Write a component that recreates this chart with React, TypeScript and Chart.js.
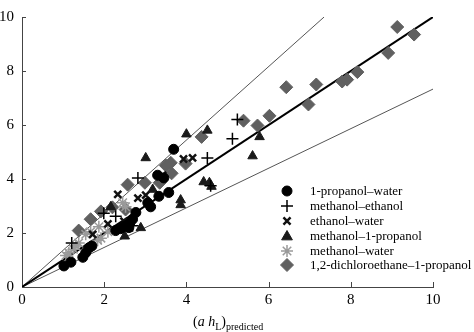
import React, { useEffect, useRef } from 'react';
import { Chart, registerables } from 'chart.js';

Chart.register(...registerables);

const FONT = "'Liberation Serif', 'Times New Roman', serif";

const xTicks = [0, 2, 4, 6, 8, 10];
const yTicks = [0, 2, 4, 6, 8, 10];

const seriesNames = [
  '1-propanol–water',
  'methanol–ethanol',
  'ethanol–water',
  'methanol–1-propanol',
  'methanol–water',
  '1,2-dichloroethane–1-propanol',
];

const propanolWater = [
  [1.02, 0.78], [1.19, 0.92], [1.48, 1.1], [1.55, 1.27], [1.63, 1.45], [1.7, 1.52],
  [2.28, 2.09], [2.4, 2.16], [2.52, 2.27], [2.62, 2.35], [2.69, 2.51], [2.77, 2.76],
  [3.06, 3.12], [3.13, 2.97], [3.33, 3.36], [3.57, 3.5], [3.3, 4.14], [3.45, 4.04],
  [3.69, 5.1], [2.6, 2.2],
];

const methanolEthanol = [
  [1.21, 1.63], [1.99, 2.73], [2.28, 2.62], [2.69, 2.27], [2.82, 4.04],
  [4.51, 4.78], [4.59, 3.75], [5.12, 5.49], [5.24, 6.2],
];

const ethanolWater = [
  [2.33, 3.43], [2.82, 3.29], [3.01, 3.4], [3.42, 4.14], [2.09, 2.34],
  [2.48, 2.44], [3.93, 4.74], [4.15, 4.78], [1.72, 1.95],
];

const methanolPropanol = [
  [2.5, 1.88], [2.89, 2.19], [2.16, 2.97], [3.18, 3.61], [3.01, 4.78],
  [3.86, 3.22], [3.86, 3.04], [4.0, 5.66], [4.51, 5.8], [4.42, 3.89],
  [4.56, 3.86], [4.61, 3.72], [5.61, 4.85], [5.78, 5.56],
];

const methanolWater = [
  [1.07, 1.17], [1.14, 1.27], [1.25, 1.4], [1.31, 1.52], [1.38, 1.63], [1.55, 1.95],
  [1.67, 2.05], [1.84, 1.73], [1.87, 2.23], [1.92, 1.81], [2.09, 2.05],
  [2.45, 3.12], [2.52, 2.97],
];

const dichloroethanePropanol = [
  [1.38, 2.09], [1.67, 2.51], [1.92, 2.8], [2.2, 2.95], [2.52, 2.87], [2.57, 3.79],
  [2.99, 3.86], [3.35, 3.86], [3.5, 4.5], [3.62, 4.6], [3.64, 4.21], [3.98, 4.57],
  [4.37, 5.56], [5.39, 6.16], [5.73, 5.98], [6.02, 6.34], [6.43, 7.4], [6.97, 6.76],
  [7.16, 7.5], [7.79, 7.61], [7.91, 7.68], [8.16, 7.96], [8.91, 8.67], [9.13, 9.63],
  [9.54, 9.35],
];

const parityLine = [[0, 0], [10, 10]];
const upperLine = [[0, 0], [7.35, 10]];
const lowerLine = [[0, 0], [10, 7.33]];

type Style = { pointStyle: string; radius: number; fill: string; stroke: string; lw: number };

const styles: Style[] = [
  { pointStyle: 'circle', radius: 5, fill: '#000', stroke: '#000', lw: 1 },
  { pointStyle: 'cross', radius: 6, fill: '#000', stroke: '#000', lw: 1.5 },
  { pointStyle: 'crossRot', radius: 5, fill: '#111', stroke: '#111', lw: 2.5 },
  { pointStyle: 'triangle', radius: 5.5, fill: '#1a1a1a', stroke: '#1a1a1a', lw: 1 },
  { pointStyle: 'star', radius: 6, fill: '#9a9a9a', stroke: '#9a9a9a', lw: 1.5 },
  { pointStyle: 'rectRot', radius: 6.5, fill: '#606060', stroke: '#606060', lw: 1 },
];

const seriesData = [
  propanolWater, methanolEthanol, ethanolWater, methanolPropanol, methanolWater, dichloroethanePropanol,
];

function drawMarker(ctx: CanvasRenderingContext2D, s: Style, x: number, y: number) {
  const r = s.radius;
  ctx.save();
  ctx.fillStyle = s.fill;
  ctx.strokeStyle = s.stroke;
  ctx.lineWidth = s.lw;
  ctx.beginPath();
  if (s.pointStyle === 'circle') {
    ctx.arc(x, y, r, 0, Math.PI * 2);
    ctx.fill();
    ctx.stroke();
  } else if (s.pointStyle === 'cross') {
    ctx.moveTo(x - r, y); ctx.lineTo(x + r, y);
    ctx.moveTo(x, y - r); ctx.lineTo(x, y + r);
    ctx.stroke();
  } else if (s.pointStyle === 'crossRot') {
    const d = r * Math.SQRT1_2;
    ctx.moveTo(x - d, y - d); ctx.lineTo(x + d, y + d);
    ctx.moveTo(x + d, y - d); ctx.lineTo(x - d, y + d);
    ctx.stroke();
  } else if (s.pointStyle === 'triangle') {
    ctx.moveTo(x, y - r);
    ctx.lineTo(x + r * 0.98, y + r * 0.7);
    ctx.lineTo(x - r * 0.98, y + r * 0.7);
    ctx.closePath();
    ctx.fill();
    ctx.stroke();
  } else if (s.pointStyle === 'star') {
    const d = r * Math.SQRT1_2;
    ctx.moveTo(x - r, y); ctx.lineTo(x + r, y);
    ctx.moveTo(x, y - r); ctx.lineTo(x, y + r);
    ctx.moveTo(x - d, y - d); ctx.lineTo(x + d, y + d);
    ctx.moveTo(x + d, y - d); ctx.lineTo(x - d, y + d);
    ctx.stroke();
  } else if (s.pointStyle === 'rectRot') {
    ctx.moveTo(x - r, y); ctx.lineTo(x, y - r); ctx.lineTo(x + r, y); ctx.lineTo(x, y + r);
    ctx.closePath();
    ctx.fill();
    ctx.stroke();
  }
  ctx.restore();
}

const overlayPlugin = {
  id: 'overlay',
  afterDraw(chart: any) {
    const { ctx, chartArea, scales } = chart;
    ctx.save();
    ctx.strokeStyle = '#444';
    ctx.lineWidth = 1;
    xTicks.forEach((v) => {
      if (v === 0) return;
      const px = Math.round(scales.x.getPixelForValue(v)) + 0.5;
      ctx.beginPath();
      ctx.moveTo(px, chartArea.bottom);
      ctx.lineTo(px, chartArea.bottom - 5);
      ctx.stroke();
    });
    yTicks.forEach((v) => {
      if (v === 0) return;
      const py = Math.round(scales.y.getPixelForValue(v)) + 0.5;
      ctx.beginPath();
      ctx.moveTo(chartArea.left, py);
      ctx.lineTo(chartArea.left + 4, py);
      ctx.stroke();
    });

    // axis title: (a hL)predicted
    ctx.fillStyle = '#000';
    ctx.textBaseline = 'alphabetic';
    ctx.textAlign = 'left';
    let x = 193;
    const base = 326;
    const subBase = 330;
    const big = `14px ${FONT}`;
    const bigIt = `italic 14px ${FONT}`;
    const small = `10px ${FONT}`;
    const parts: [string, string, number][] = [
      ['(', big, base],
      ['a', bigIt, base],
      [' ', big, base],
      ['h', bigIt, base],
      ['L', small, subBase],
      [')', big, base],
      ['predicted', small, subBase],
    ];
    parts.forEach(([t, f, b]) => {
      ctx.font = f;
      ctx.fillText(t, x, b);
      x += ctx.measureText(t).width;
    });

    // legend
    const rows = [191, 206, 221, 236, 251, 265];
    ctx.font = `13px ${FONT}`;
    ctx.textBaseline = 'middle';
    seriesNames.forEach((name, i) => {
      drawMarker(ctx, styles[i], 287, rows[i]);
      ctx.fillStyle = '#000';
      ctx.fillText(name, 310, rows[i] + 1);
    });
    ctx.restore();
  },
};

const toPoints = (arr: number[][]) => arr.map(([x, y]) => ({ x, y }));

export default function App() {
  const ref = useRef<HTMLCanvasElement | null>(null);

  useEffect(() => {
    document.body.style.margin = '0';
    if (!ref.current) return;

    const scatterSets = seriesData.map((d, i) => ({
      type: 'scatter' as const,
      label: seriesNames[i],
      data: toPoints(d),
      pointStyle: styles[i].pointStyle,
      pointRadius: styles[i].radius,
      pointBackgroundColor: styles[i].fill,
      pointBorderColor: styles[i].stroke,
      pointBorderWidth: styles[i].lw,
      showLine: false,
      order: i,
    }));

    const lineSet = (d: number[][], w: number, c: string, label: string) => ({
      type: 'line' as const,
      label,
      data: toPoints(d),
      borderColor: c,
      borderWidth: w,
      pointRadius: 0,
      fill: false,
      order: 10,
    });

    const chart = new Chart(ref.current, {
      type: 'scatter',
      data: {
        datasets: [
          ...scatterSets,
          lineSet(parityLine, 2, '#000', 'parity'),
          lineSet(upperLine, 1, '#555', 'upper'),
          lineSet(lowerLine, 1, '#555', 'lower'),
        ] as any,
      },
      options: {
        responsive: false,
        animation: false,
        layout: { padding: { top: 5, right: 41, left: 0, bottom: 0 } },
        plugins: { legend: { display: false }, tooltip: { enabled: false }, title: { display: false } },
        scales: {
          x: {
            type: 'linear',
            min: 0,
            max: 10,
            afterFit: (s: any) => { s.height = 45; },
            afterBuildTicks: (s: any) => { s.ticks = xTicks.map((v) => ({ value: v })); },
            grid: { drawOnChartArea: false, drawTicks: false },
            border: { color: '#444', width: 1 },
            ticks: { color: '#000', padding: 4, font: { family: FONT, size: 15 }, maxRotation: 0 },
          },
          y: {
            type: 'linear',
            min: 0,
            max: 10,
            afterFit: (s: any) => { s.width = 22; },
            afterBuildTicks: (s: any) => { s.ticks = yTicks.map((v) => ({ value: v })); },
            grid: { drawOnChartArea: false, drawTicks: false },
            border: { color: '#444', width: 1 },
            ticks: { color: '#000', padding: 8, font: { family: FONT, size: 15 } },
          },
        },
      },
      plugins: [overlayPlugin],
    });

    return () => chart.destroy();
  }, []);

  return (
    <div style={{ width: 474, height: 332 }}>
      <canvas ref={ref} width={474} height={332} style={{ width: 474, height: 332, display: 'block' }} />
    </div>
  );
}
